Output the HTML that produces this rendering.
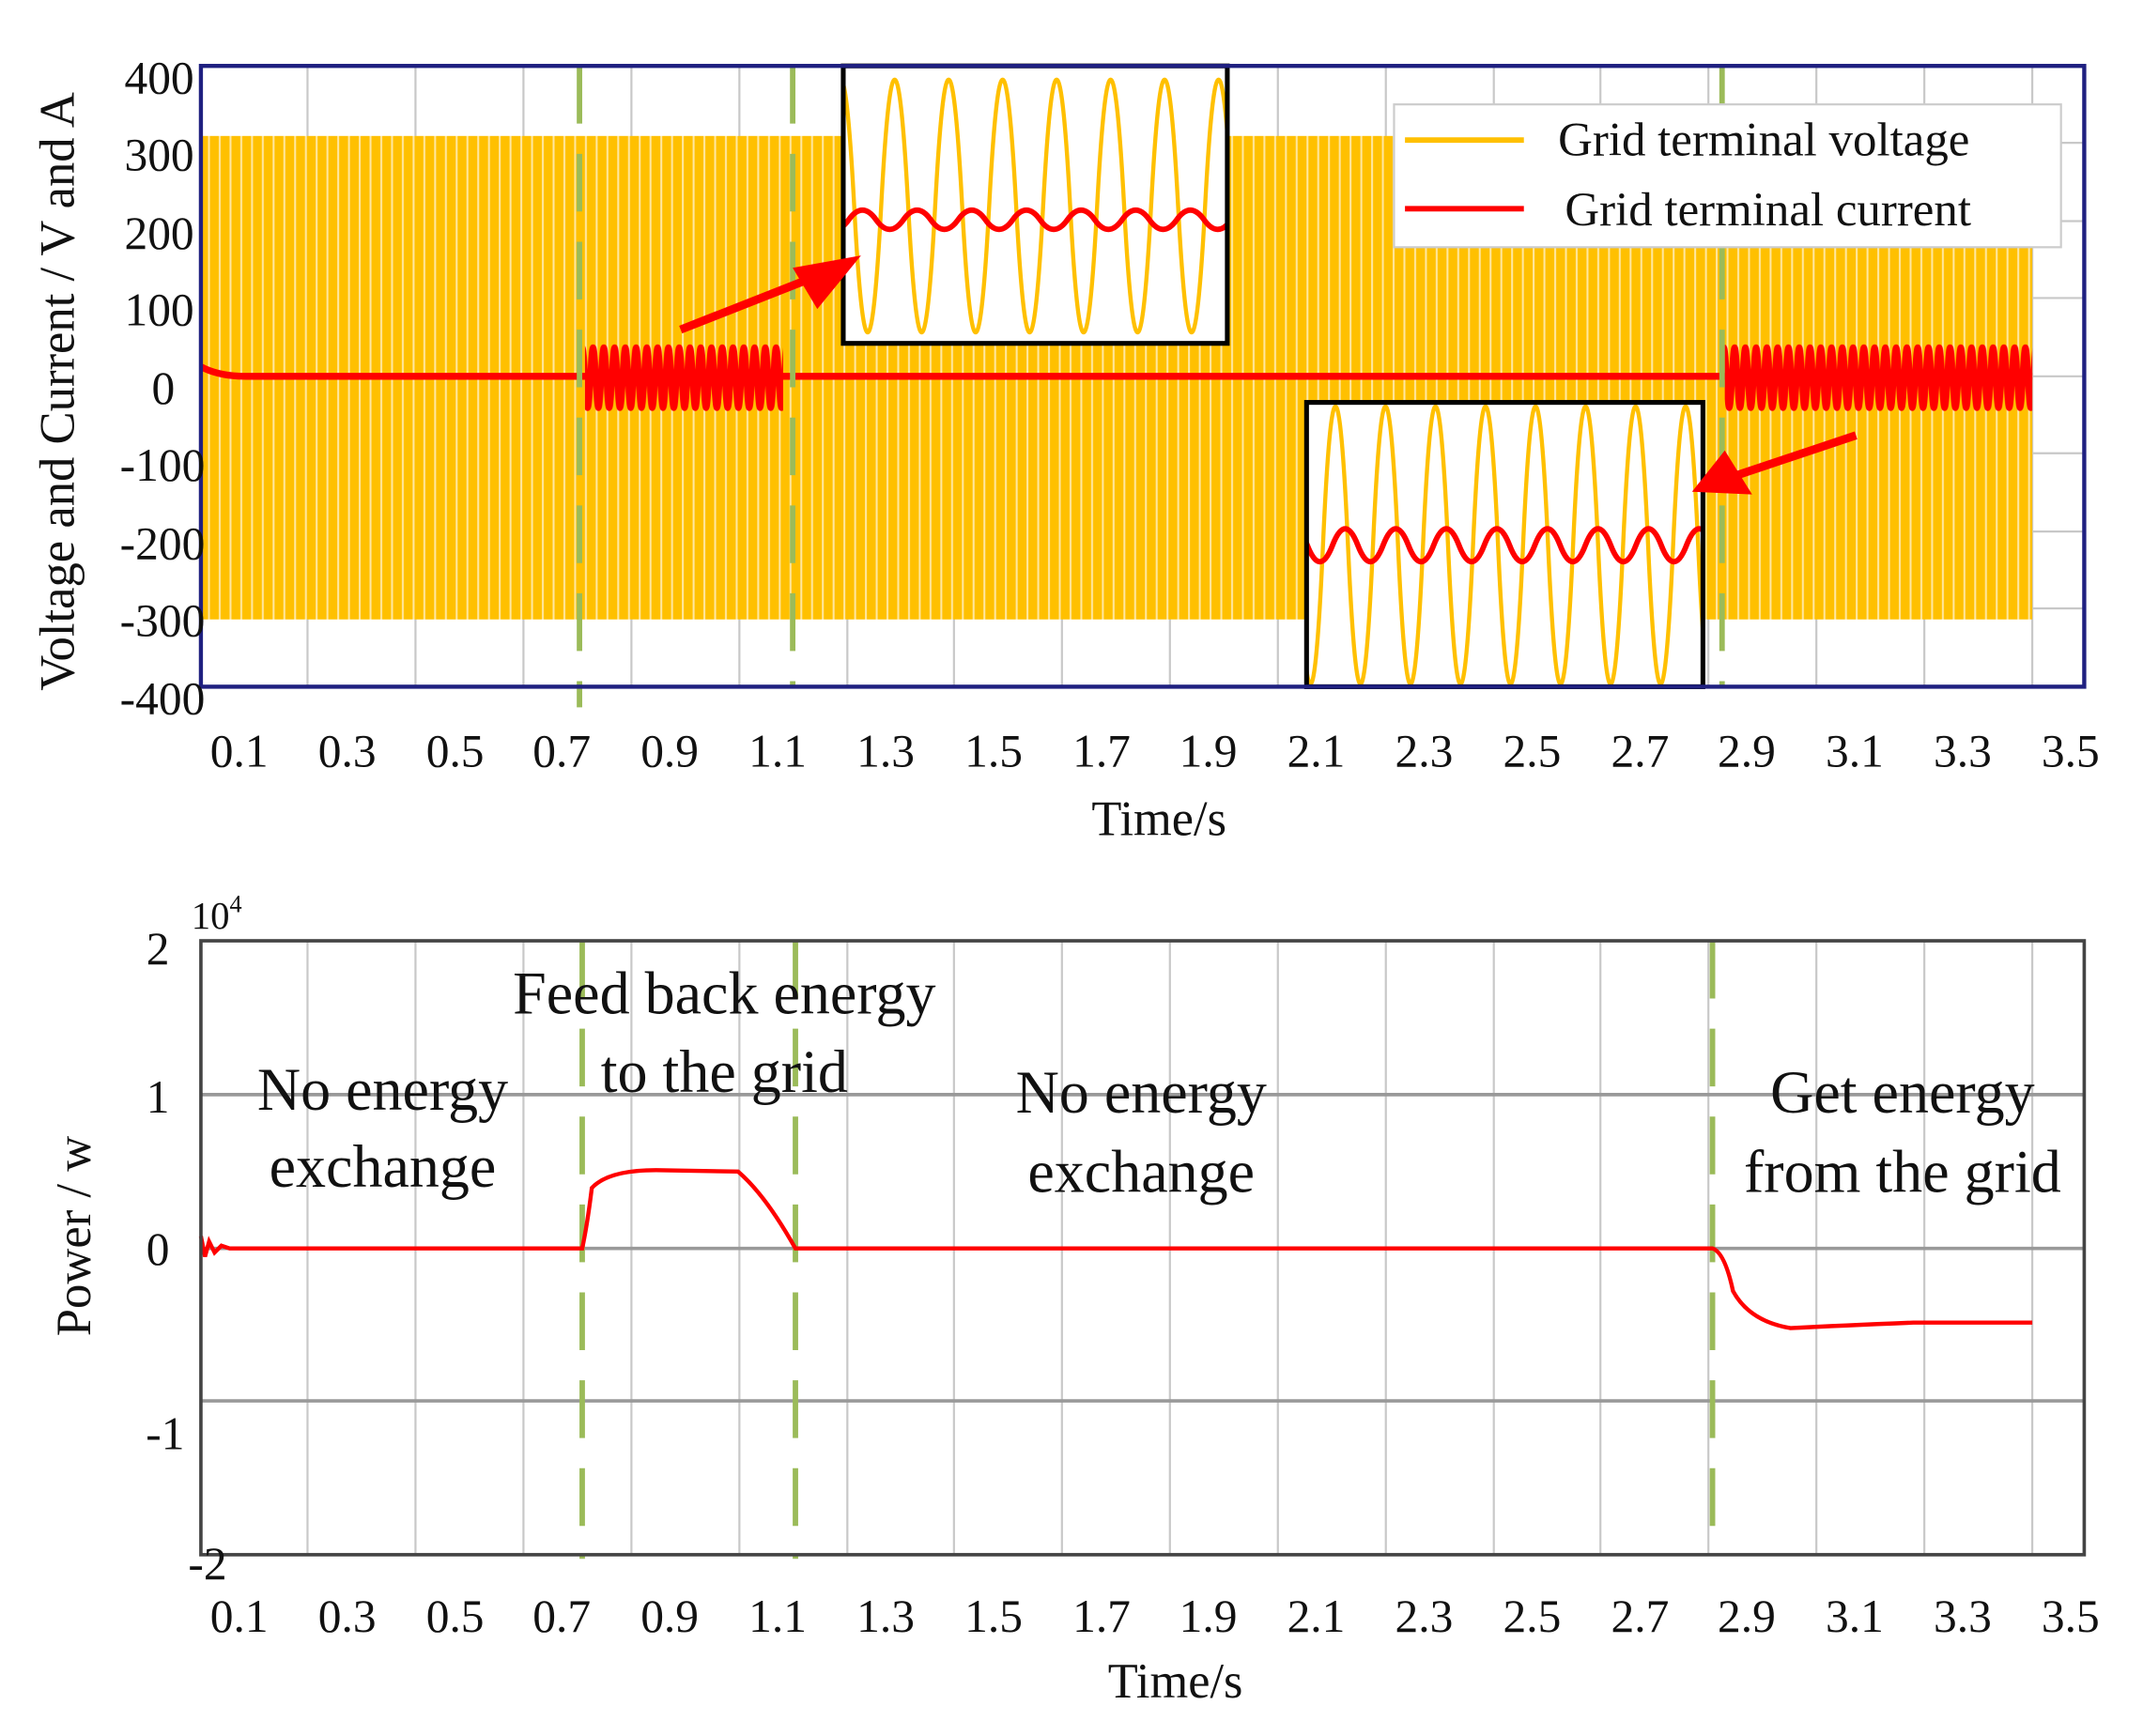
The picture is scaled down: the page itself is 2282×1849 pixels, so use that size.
<!DOCTYPE html>
<html><head><meta charset="utf-8"><style>
html,body{margin:0;padding:0;background:#fff;}
svg{display:block;}
text{font-family:"Liberation Serif",serif;fill:#111;}
</style></head><body>
<svg width="2282" height="1849" viewBox="0 0 1568 1264" preserveAspectRatio="none" xmlns="http://www.w3.org/2000/svg">
<defs>
<pattern id="vp" patternUnits="userSpaceOnUse" x="147" y="0" width="7.88" height="1264">
<rect x="0" y="0" width="7.88" height="1264" fill="#FFC000"/>
<rect x="5.2" y="0" width="1.4" height="1264" fill="#FFE7A0"/>
</pattern>
<pattern id="cp" patternUnits="userSpaceOnUse" x="428" y="250" width="7.88" height="50">
<path d="M-3.94,25 q1.97,-44 3.94,0 t3.94,0 t3.94,0 t3.94,0" fill="none" stroke="#F00" stroke-width="4.5"/>
</pattern>
<clipPath id="c1"><rect x="617" y="48" width="281" height="202"/></clipPath>
<clipPath id="c2"><rect x="956" y="293" width="290" height="207"/></clipPath>
</defs>
<rect width="1568" height="1264" fill="#fff"/>

<g stroke="#c8c8c8" stroke-width="1.5">
<line x1="225" y1="48" x2="225" y2="500"/><line x1="304" y1="48" x2="304" y2="500"/><line x1="383" y1="48" x2="383" y2="500"/><line x1="462" y1="48" x2="462" y2="500"/><line x1="541" y1="48" x2="541" y2="500"/><line x1="620" y1="48" x2="620" y2="500"/><line x1="698" y1="48" x2="698" y2="500"/><line x1="777" y1="48" x2="777" y2="500"/><line x1="856" y1="48" x2="856" y2="500"/><line x1="935" y1="48" x2="935" y2="500"/><line x1="1014" y1="48" x2="1014" y2="500"/><line x1="1093" y1="48" x2="1093" y2="500"/><line x1="1171" y1="48" x2="1171" y2="500"/><line x1="1250" y1="48" x2="1250" y2="500"/><line x1="1329" y1="48" x2="1329" y2="500"/><line x1="1408" y1="48" x2="1408" y2="500"/><line x1="1487" y1="48" x2="1487" y2="500"/>
<line x1="147" y1="104" x2="1525" y2="104"/><line x1="147" y1="161" x2="1525" y2="161"/><line x1="147" y1="217" x2="1525" y2="217"/><line x1="147" y1="274" x2="1525" y2="274"/><line x1="147" y1="330" x2="1525" y2="330"/><line x1="147" y1="387" x2="1525" y2="387"/><line x1="147" y1="443" x2="1525" y2="443"/>
</g>
<rect x="147" y="99" width="1340" height="352" fill="url(#vp)"/>
<path d="M147,267 Q160,274 180,274 L1487,274" fill="none" stroke="#F00" stroke-width="5"/>
<rect x="428" y="250" width="145" height="50" fill="url(#cp)"/>
<rect x="1262" y="250" width="225" height="50" fill="url(#cp)"/>
<g stroke="#9BBB59" stroke-width="4" stroke-dasharray="42,22">
<line x1="424" y1="48" x2="424" y2="515"/><line x1="580" y1="48" x2="580" y2="500"/><line x1="1260" y1="48" x2="1260" y2="500"/>
</g>
<rect x="617" y="48" width="281" height="202" fill="#fff"/>
<g clip-path="url(#c1)" fill="none">
<path d="M605.25,150 q9.875,-184 19.75,0 t19.75,0 t19.75,0 t19.75,0 t19.75,0 t19.75,0 t19.75,0 t19.75,0 t19.75,0 t19.75,0 t19.75,0 t19.75,0 t19.75,0 t19.75,0 t19.75,0 t19.75,0" stroke="#FFC000" stroke-width="3"/>
<path d="M581,160 q10,-14 20,0 t20,0 t20,0 t20,0 t20,0 t20,0 t20,0 t20,0 t20,0 t20,0 t20,0 t20,0 t20,0 t20,0 t20,0 t20,0 t20,0" stroke="#F00" stroke-width="4"/>
</g>
<rect x="617" y="48" width="281" height="202" fill="none" stroke="#000" stroke-width="3.5"/>
<rect x="956" y="293" width="290" height="207" fill="#fff"/>
<g clip-path="url(#c2)" fill="none">
<path d="M931.4,397 q9.15,-202 18.3,0 t18.3,0 t18.3,0 t18.3,0 t18.3,0 t18.3,0 t18.3,0 t18.3,0 t18.3,0 t18.3,0 t18.3,0 t18.3,0 t18.3,0 t18.3,0 t18.3,0 t18.3,0 t18.3,0 t18.3,0" stroke="#FFC000" stroke-width="3"/>
<path d="M938,397 q9.25,-24 18.5,0 t18.5,0 t18.5,0 t18.5,0 t18.5,0 t18.5,0 t18.5,0 t18.5,0 t18.5,0 t18.5,0 t18.5,0 t18.5,0 t18.5,0 t18.5,0 t18.5,0 t18.5,0 t18.5,0 t18.5,0" stroke="#F00" stroke-width="4"/>
</g>
<rect x="956" y="293" width="290" height="207" fill="none" stroke="#000" stroke-width="3.5"/>
<line x1="498" y1="240" x2="595" y2="202" stroke="#F00" stroke-width="6"/>
<polygon points="630,186 580,195 598,225" fill="#F00"/>
<line x1="1358" y1="317" x2="1268" y2="347" stroke="#F00" stroke-width="6"/>
<polygon points="1238,358 1262,328 1282,360" fill="#F00"/>
<rect x="1020" y="76" width="488" height="104" fill="#fff" stroke="#ccc" stroke-width="1.5"/>
<line x1="1028" y1="102" x2="1115" y2="102" stroke="#FFC000" stroke-width="4"/>
<line x1="1028" y1="152" x2="1115" y2="152" stroke="#F00" stroke-width="4"/>
<text x="1140" y="113" font-size="35">Grid terminal voltage</text>
<text x="1145" y="164" font-size="35">Grid terminal current</text>
<rect x="147" y="48" width="1378" height="452" fill="none" stroke="#1f2080" stroke-width="3"/>
<g font-size="34" text-anchor="end">
<text x="142" y="68">400</text><text x="142" y="124">300</text><text x="142" y="181">200</text><text x="142" y="237">100</text><text x="128" y="294">0</text><text x="150" y="350">-100</text><text x="150" y="407">-200</text><text x="150" y="463">-300</text><text x="150" y="520">-400</text>
</g>
<g font-size="34" text-anchor="middle">
<text x="175" y="558">0.1</text><text x="254" y="558">0.3</text><text x="333" y="558">0.5</text><text x="411" y="558">0.7</text><text x="490" y="558">0.9</text><text x="569" y="558">1.1</text><text x="648" y="558">1.3</text><text x="727" y="558">1.5</text><text x="806" y="558">1.7</text><text x="884" y="558">1.9</text><text x="963" y="558">2.1</text><text x="1042" y="558">2.3</text><text x="1121" y="558">2.5</text><text x="1200" y="558">2.7</text><text x="1278" y="558">2.9</text><text x="1357" y="558">3.1</text><text x="1436" y="558">3.3</text><text x="1515" y="558">3.5</text>
<text x="848" y="608" font-size="36">Time/s</text>
</g>
<text transform="translate(54,285) rotate(-90)" font-size="36" text-anchor="middle">Voltage and Current / V and A</text>

<g stroke="#c8c8c8" stroke-width="1.5">
<line x1="225" y1="685" x2="225" y2="1132"/><line x1="304" y1="685" x2="304" y2="1132"/><line x1="383" y1="685" x2="383" y2="1132"/><line x1="462" y1="685" x2="462" y2="1132"/><line x1="541" y1="685" x2="541" y2="1132"/><line x1="620" y1="685" x2="620" y2="1132"/><line x1="698" y1="685" x2="698" y2="1132"/><line x1="777" y1="685" x2="777" y2="1132"/><line x1="856" y1="685" x2="856" y2="1132"/><line x1="935" y1="685" x2="935" y2="1132"/><line x1="1014" y1="685" x2="1014" y2="1132"/><line x1="1093" y1="685" x2="1093" y2="1132"/><line x1="1171" y1="685" x2="1171" y2="1132"/><line x1="1250" y1="685" x2="1250" y2="1132"/><line x1="1329" y1="685" x2="1329" y2="1132"/><line x1="1408" y1="685" x2="1408" y2="1132"/><line x1="1487" y1="685" x2="1487" y2="1132"/>
</g>
<g stroke="#999" stroke-width="2.5">
<line x1="147" y1="797" x2="1525" y2="797"/><line x1="147" y1="909" x2="1525" y2="909"/><line x1="147" y1="1020" x2="1525" y2="1020"/>
</g>
<g stroke="#9BBB59" stroke-width="4" stroke-dasharray="42,22">
<line x1="426" y1="685" x2="426" y2="1135"/><line x1="582" y1="685" x2="582" y2="1135"/><line x1="1253" y1="685" x2="1253" y2="1132"/>
</g>
<path d="M147,900 L150,915 L153,904 L157,912 L162,907 L168,909 L426,909 Q430,890 433,865 Q445,852 480,852 L540,853 Q560,870 582,909 L1253,909 Q1262,912 1268,940 Q1280,962 1310,967 Q1350,965 1400,963 L1487,963" fill="none" stroke="#F00" stroke-width="3"/>
<rect x="147" y="685" width="1378" height="447" fill="none" stroke="#444" stroke-width="2.5"/>
<g font-size="34" text-anchor="end">
<text x="124" y="702">2</text><text x="124" y="810">1</text><text x="124" y="921">0</text><text x="135" y="1055">-1</text><text x="166" y="1150">-2</text>
</g>
<text x="140" y="676" font-size="28">10<tspan font-size="18" dy="-12">4</tspan></text>
<g font-size="34" text-anchor="middle">
<text x="175" y="1188">0.1</text><text x="254" y="1188">0.3</text><text x="333" y="1188">0.5</text><text x="411" y="1188">0.7</text><text x="490" y="1188">0.9</text><text x="569" y="1188">1.1</text><text x="648" y="1188">1.3</text><text x="727" y="1188">1.5</text><text x="806" y="1188">1.7</text><text x="884" y="1188">1.9</text><text x="963" y="1188">2.1</text><text x="1042" y="1188">2.3</text><text x="1121" y="1188">2.5</text><text x="1200" y="1188">2.7</text><text x="1278" y="1188">2.9</text><text x="1357" y="1188">3.1</text><text x="1436" y="1188">3.3</text><text x="1515" y="1188">3.5</text>
<text x="860" y="1236" font-size="36">Time/s</text>
</g>
<text transform="translate(66,900) rotate(-90)" font-size="36" text-anchor="middle">Power / w</text>
<g font-size="44" text-anchor="middle">
<text x="280" y="808">No energy</text><text x="280" y="864">exchange</text>
<text x="530" y="738">Feed back energy</text><text x="530" y="795">to the grid</text>
<text x="835" y="810">No energy</text><text x="835" y="868">exchange</text>
<text x="1392" y="810">Get energy</text><text x="1392" y="868">from the grid</text>
</g>
</svg>
</body></html>
